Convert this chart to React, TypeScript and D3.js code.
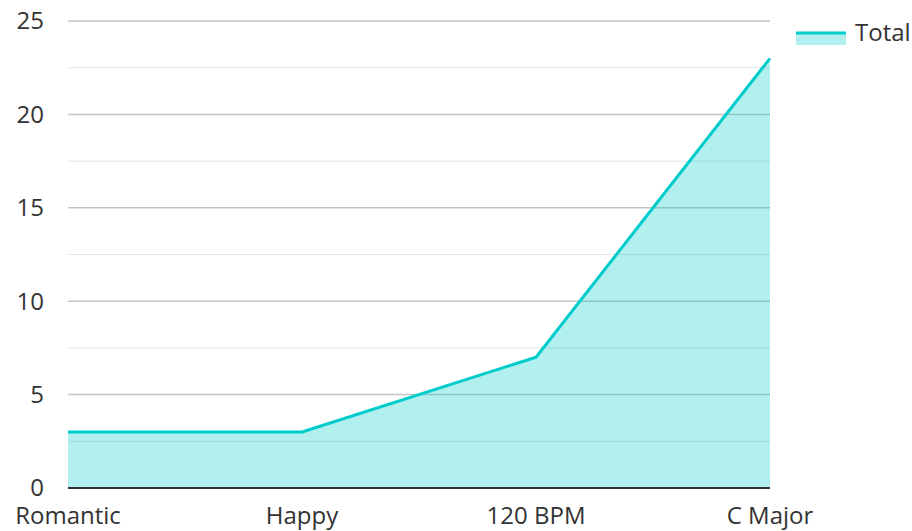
import React, { useEffect, useRef } from 'react';
import * as d3 from 'd3';

const categories = ['Romantic', 'Happy', '120 BPM', 'C Major'];
const totals = [3, 3, 7, 23];
const yTicks = [0, 5, 10, 15, 20, 25];
const seriesName = 'Total';

export default function App() {
  const svgRef = useRef<SVGSVGElement>(null);

  useEffect(() => {
    const svg = d3.select(svgRef.current);
    svg.selectAll('*').remove();

    const width = 912;
    const height = 531;
    const left = 68, right = 770, top = 21, bottom = 488;
    const teal = '#00cccc';
    const font = '"Open Sans", "Noto Sans", sans-serif';

    const x = d3.scalePoint<string>().domain(categories).range([left, right]);
    const y = d3.scaleLinear().domain([0, 25]).range([bottom, top]);

    svg.attr('width', width).attr('height', height).style('font-family', font);

    // minor grid
    svg.append('g')
      .selectAll('line')
      .data(d3.range(2.5, 25, 5))
      .join('line')
      .attr('x1', left).attr('x2', right)
      .attr('y1', d => y(d)).attr('y2', d => y(d))
      .attr('stroke', '#e3e3e3').attr('stroke-width', 1);

    // major grid
    svg.append('g')
      .selectAll('line')
      .data(yTicks.slice(1))
      .join('line')
      .attr('x1', left).attr('x2', right)
      .attr('y1', d => y(d)).attr('y2', d => y(d))
      .attr('stroke', '#c4c4c4').attr('stroke-width', 1.5);

    const pts = categories.map((c, i) => [x(c)!, totals[i]] as [number, number]);

    const area = d3.area<[number, number]>()
      .x(d => d[0]).y0(y(0)).y1(d => y(d[1]));
    svg.append('path')
      .attr('d', area(pts))
      .attr('fill', teal).attr('fill-opacity', 0.3);

    const line = d3.line<[number, number]>().x(d => d[0]).y(d => y(d[1]));
    svg.append('path')
      .attr('d', line(pts))
      .attr('fill', 'none').attr('stroke', teal).attr('stroke-width', 3)
      .attr('stroke-linejoin', 'round');

    // baseline
    svg.append('line')
      .attr('x1', left).attr('x2', right)
      .attr('y1', y(0)).attr('y2', y(0))
      .attr('stroke', '#333').attr('stroke-width', 2);

    // y labels
    svg.append('g')
      .selectAll('text')
      .data(yTicks)
      .join('text')
      .attr('x', 44).attr('y', d => y(d))
      .attr('dy', '0.35em')
      .attr('text-anchor', 'end')
      .attr('font-size', 24)
      .attr('fill', '#333')
      .text(d => d);

    // x labels
    svg.append('g')
      .selectAll('text')
      .data(categories)
      .join('text')
      .attr('x', d => x(d)!).attr('y', 524)
      .attr('text-anchor', 'middle')
      .attr('font-size', 24)
      .attr('fill', '#333')
      .text(d => d);

    // legend
    const lg = svg.append('g');
    lg.append('rect')
      .attr('x', 796).attr('y', 33).attr('width', 50).attr('height', 12)
      .attr('fill', teal).attr('fill-opacity', 0.3);
    lg.append('line')
      .attr('x1', 796).attr('x2', 846).attr('y1', 33).attr('y2', 33)
      .attr('stroke', teal).attr('stroke-width', 3);
    lg.append('text')
      .attr('x', 855).attr('y', 33).attr('dy', '0.35em')
      .attr('font-size', 24).attr('fill', '#333')
      .text(seriesName);
  }, []);

  return <svg ref={svgRef} style={{ position: 'absolute', left: 0, top: 0 }} />;
}
